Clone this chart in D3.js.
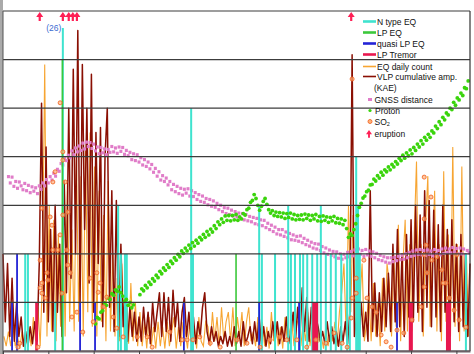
<!DOCTYPE html>
<html>
<head>
<meta charset="utf-8">
<script src="https://cdn.jsdelivr.net/npm/d3@7"></script>
<style>
body { margin: 0; background: #fff; }
svg { display: block; font-family: "Liberation Sans", Arial, sans-serif; }
</style>
</head>
<body>
<script>
// time axis in days since start of record
var tickDays = [0, 100, 200, 300, 400, 500, 600, 700, 800, 900, 1000];
var eruptionDays = [81, 132, 145, 154, 163, 768];

// daily event counts
var nTypeDays   = [49, 55, 115, 132, 254, 260, 269, 273, 415, 419, 565, 571, 600, 629, 635, 644, 655, 662, 671, 682, 693, 701, 712, 723, 734, 746, 759, 765, 779, 783, 787, 1021];
var nTypeCounts = [2, 2, 1, 26, 3, 2, 2, 2, 5, 2, 3, 2, 2, 3, 2, 2, 2, 2, 2, 2, 2, 3, 2, 2, 2, 2, 2, 2, 4, 3, 2, 2];
var lpDays   = [131, 514];
var lpCounts = [6, 2];
var qlpDays   = [20, 31, 170, 203, 399, 565, 653, 688, 869];
var qlpCounts = [1, 2, 1, 1, 1, 1, 1, 1, 1];
var tremorStart = [71, 682, 895, 977];
var tremorEnd   = [77, 695, 904, 988];

// EQ daily count, every 5 days from day 2
var eqStart = 2, eqStep = 5;
var eqCount = [
  3, 1, 4, 1, 5, 1, 3, 0.5, 4, 1,
  2, 5, 1, 7, 2, 9, 1, 15, 59, 3,
  30, 4, 27, 2, 24, 5, 31, 3, 35, 6,
  25, 4, 40, 6, 36, 3, 42, 8, 45, 5,
  38, 3, 33, 6, 28, 2, 35, 4, 20, 3,
  15, 2, 18, 3, 12, 1.5, 14, 2, 10, 1,
  8, 1, 6, 0.5, 7, 1, 5, 0.5, 6, 1,
  5, 0.5, 6, 1, 4, 7, 0.5, 5, 1, 6,
  4, 0.5, 6, 1, 5, 0.5, 7, 2, 1, 6,
  5, 1, 8, 2, 7, 1, 9, 2, 6, 8,
  2, 9, 1, 7, 3, 8, 1, 6, 9, 2,
  4, 1, 7, 2, 6, 1, 5, 0.5, 8, 2,
  6, 1, 5, 0.5, 7, 2, 4, 6, 1, 5,
  7, 1, 6, 2, 8, 1, 5, 0.5, 6, 2,
  3, 0.5, 5, 1, 4, 2, 6, 1, 8, 12,
  18, 3, 30, 8, 28, 5, 24, 10, 18, 2,
  6, 12, 2, 14, 3, 10, 1, 15, 4, 18,
  14, 3, 20, 5, 26, 2, 18, 27, 4, 22,
  4, 24, 39, 6, 22, 3, 26, 36, 5, 20,
  33, 4, 22, 2, 37, 6, 24, 3, 42, 5,
  22, 2, 38, 4, 20, 3
];

// VLP cumulative amplitude (KAE), every 5 days from day 0
var vlpStart = 0, vlpStep = 5;
var vlpAmp = [
  20, 6, 18, 3, 15, 2, 10, 3, 7, 1,
  4, 1, 5, 1.5, 6, 2, 18, 51, 8, 42,
  6, 25, 4, 30, 8, 22, 3, 35, 12, 50,
  15, 58, 20, 66, 10, 59, 25, 50, 14, 57,
  8, 45, 18, 46, 5, 40, 50, 9, 33, 4,
  31, 3, 22, 5, 14, 2, 9, 3, 8, 2,
  7, 2, 9, 3, 8, 1.5, 10, 4, 8, 12,
  3, 12, 4, 11, 2, 12.5, 5, 10, 2, 8,
  11, 3, 8, 2, 7, 1.5, 6, 3, 9, 12,
  4, 1.5, 5, 2, 4, 1, 3, 1.5, 4, 1,
  3, 1, 5, 1.5, 4, 1, 6, 1.5, 3, 5,
  1.5, 6, 2, 7, 1.5, 5, 1, 4, 1.5, 6,
  2, 6, 1.5, 5, 2, 7, 1.5, 4, 8, 2,
  9, 3, 13, 4, 11, 2, 9, 3, 7, 5,
  2, 4, 1.5, 6, 2, 5, 1.5, 4, 1, 5,
  2, 6, 1.5, 8, 61, 3, 7, 2, 10, 3,
  8, 2, 33, 4, 14, 3, 12, 4, 15, 5,
  16, 4, 22, 6, 25, 5, 20, 3, 24, 7,
  27, 6, 30, 8, 28, 4, 33, 9, 31, 5,
  29, 7, 26, 4, 30, 8, 25, 3, 27, 6,
  22, 4, 24, 5, 20, 3, 18
];

// GNSS baseline distance, every 4 days from day 12
var gnssStart = 12, gnssStep = 4;
var gnssDist = [
  35.9, 34.6, 35.8, 33.9, 34.9, 33.5, 34.8, 34.0, 33.2, 34.5,
  33.0, 34.1, 32.6, 33.8, 32.9, 33.6, 32.4, 34.0, 33.3, 34.6,
  34.0, 35.3, 34.6, 35.9, 35.2, 36.6, 36.0, 37.4, 37.0, 38.6,
  38.3, 39.7, 39.2, 40.3, 39.8, 41.2, 40.4, 41.8, 41.0, 42.2,
  41.3, 42.8, 41.6, 43.0, 42.1, 42.9, 41.7, 42.6, 41.2, 42.0,
  40.6, 41.9, 40.8, 41.6, 40.4, 41.5, 40.9, 42.1, 41.0, 41.8,
  40.7, 42.0, 41.1, 41.9, 40.5, 41.3, 40.2, 40.9, 39.4, 40.6,
  39.2, 40.4, 38.9, 39.8, 38.3, 39.4, 38.0, 38.9, 37.5, 38.4,
  36.8, 37.6, 36.0, 36.9, 35.2, 36.1, 34.9, 35.6, 34.2, 34.9,
  33.2, 34.3, 32.8, 33.9, 32.4, 33.5, 32.1, 33.3, 32.5, 33.4,
  31.9, 33.0, 31.8, 32.6, 31.2, 32.2, 30.8, 31.9, 30.6, 31.4,
  30.1, 31.2, 29.8, 30.9, 29.6, 30.4, 29.1, 30.0, 28.7, 29.5,
  28.3, 29.4, 28.1, 29.0, 27.8, 28.7, 27.6, 28.4, 27.3, 28.3,
  27.0, 28.1, 26.8, 27.7, 26.6, 27.5, 26.2, 27.3, 26.0, 27.0,
  25.8, 26.9, 25.4, 26.3, 25.0, 25.9, 24.6, 25.5, 24.1, 25.0,
  23.9, 25.0, 23.6, 24.5, 23.3, 24.2, 22.9, 23.9, 22.8, 23.6,
  22.6, 23.7, 22.3, 23.2, 21.9, 22.8, 21.6, 22.4, 21.2, 22.1,
  21.0, 22.0, 20.7, 21.5, 20.2, 21.2, 19.9, 20.8, 19.7, 20.5,
  19.4, 20.4, 19.1, 20.0, 18.9, 19.9, 19.2, 20.3, 19.4, 20.5,
  19.6, 20.8, 19.7, 21.0, 19.9, 20.7, 19.5, 20.9, 19.8, 20.6,
  19.5, 20.4, 19.2, 20.1, 18.8, 19.7, 18.6, 19.4, 18.3, 19.2,
  18.1, 19.2, 18.4, 19.3, 18.6, 19.5, 18.8, 19.7, 18.9, 20.0,
  19.2, 20.3, 19.5, 20.6, 19.7, 20.8, 19.9, 20.9, 19.8, 20.7,
  19.7, 20.8, 19.9, 20.6, 19.6, 20.9, 20.0, 20.7, 19.8, 21.0,
  20.1, 21.2, 20.3, 21.0, 20.2, 21.3, 20.4, 21.1, 20.0, 21.2,
  20.0, 21.0, 19.8, 20.7, 20.2
];

// Proton, two observation periods, every 4 days
var proton1Start = 204, proton1Step = 4;
var proton1 = [
  5.6, 6.9, 6.6, 8.0, 8.3, 9.9, 9.4, 10.9, 10.6, 11.8,
  11.5, 12.6, 12.3, 13.2, 12.0, 11.3, 10.2, 10.6, 9.4, 10.0,
  8.9, 9.5
];
var proton2Start = 302, proton2Step = 4;
var proton2 = [
  11.6, 12.8, 12.4, 13.5, 13.0, 14.2, 13.7, 14.9, 14.4, 15.6,
  15.1, 16.4, 15.9, 17.1, 16.6, 17.8, 17.2, 18.5, 18.0, 19.2,
  18.7, 19.9, 19.4, 20.6, 20.1, 21.2, 20.6, 21.8, 21.1, 22.3,
  21.6, 22.8, 22.2, 23.4, 22.9, 24.0, 23.4, 24.6, 23.9, 25.1,
  24.5, 25.8, 25.2, 26.6, 26.0, 27.2, 26.5, 27.8, 26.9, 27.9,
  26.8, 27.9, 27.0, 28.1, 26.9, 27.6, 27.2, 28.3, 28.0, 29.1,
  29.4, 30.6, 31.0, 32.2, 31.4, 30.0, 29.0, 29.8, 30.8, 31.4,
  30.2, 29.1, 28.4, 28.9, 27.9, 28.6, 27.7, 28.5, 27.6, 28.4,
  27.3, 28.3, 27.5, 28.4, 27.2, 28.1, 27.0, 27.9, 27.1, 28.0,
  27.0, 28.2, 27.3, 28.0, 26.9, 27.9, 27.2, 28.1, 26.8, 27.7,
  26.7, 27.8, 26.9, 27.6, 26.5, 27.5, 26.8, 27.7, 26.4, 27.3,
  26.3, 27.2, 26.0, 26.9, 25.2, 23.4, 24.1, 23.8, 25.0, 26.2,
  27.9, 29.6, 30.4, 31.5, 31.9, 32.8, 33.1, 34.2, 34.3, 35.4,
  35.0, 36.1, 35.6, 36.8, 36.2, 37.3, 36.9, 37.9, 37.3, 38.4,
  37.9, 39.0, 38.5, 39.7, 39.2, 40.3, 39.7, 40.8, 40.2, 41.4,
  40.6, 41.9, 41.3, 42.6, 42.0, 43.3, 42.6, 44.0, 43.4, 44.6,
  44.0, 45.3, 44.9, 46.3, 45.8, 47.2, 46.6, 48.1, 47.6, 49.0,
  48.6, 50.0, 49.7, 51.2, 50.6, 52.1, 51.7, 53.1, 52.6, 54.2,
  54.0, 55.6
];

// SO2 flux
var so2Days = [126, 132, 132, 115, 110, 137, 86, 104, 108, 126, 132, 143, 110, 121, 141, 82, 143, 148, 97, 86,
  99, 82, 86, 130, 93, 192, 207, 214, 210, 152, 163, 176, 221, 229, 243, 251, 265, 37, 33, 77,
  199, 318, 329, 296, 368, 395, 406, 419, 434, 457, 479, 516, 538, 567, 589, 611, 626, 648, 670, 690,
  712, 730, 748, 759, 768, 770, 779, 779, 770, 796, 803, 814, 823, 834, 845, 856, 869, 884, 902, 922,
  929, 935, 946, 957, 968, 977, 984, 995, 1006, 1021, 933, 929, 1001, 971, 929, 944, 929];
var so2Vals = [51.1, 41.0, 39.3, 36.9, 34.8, 34.8, 29.4, 27.6, 25.9, 23.9, 28.0, 28.6, 20.8, 20.8, 20.8, 18.7, 17.7, 16.1, 16.1, 14.0,
  14.6, 13.0, 11.9, 11.9, 10.9, 15.0, 16.1, 14.0, 12.1, 7.0, 8.0, 3.9, 9.1, 11.1, 7.0, 4.7, 2.9, 1.6, 0.8, 0.8,
  6.0, 2.9, 0.8, 2.9, 3.9, 2.3, 2.3, 2.3, 2.9, 1.6, 0.8, 2.3, 1.6, 0.8, 2.3, 2.9, 2.3, 2.3, 0.8, 2.3,
  1.6, 3.7, 1.6, 0.8, 6.8, 10.9, 11.9, 15.0, 56.0, 18.7, 10.9, 9.1, 8.0, 3.3, 1.9, 0.8, 4.3, 3.7, 6.4, 9.1,
  13.2, 16.1, 18.7, 19.4, 16.7, 14.0, 10.9, 8.4, 6.4, 4.9, 21.8, 19.8, 19.8, 14.0, 35.8, 31.7, 27.2];

var colors = {
  nType: "#3fe3cf", lp: "#3cc83c", qlp: "#2323d6", tremor: "#e8174f",
  eq: "#f7a532", vlp: "#8a0f03", gnss: "#e07cc8", proton: "#3ad40c",
  so2: "#f2692a", eruption: "#ff1f55"
};

var width = 474, height = 354;
var plot = {left: 3, right: 470, top: 11, bottom: 351};
var countCap = 6.65;

var x = d3.scaleLinear().domain([0, 1030]).range([plot.left, plot.right]);
var yCount = d3.scaleLinear().domain([0, 7]).range([plot.bottom, plot.top]);
var yEq = d3.scaleLinear().domain([0, 70]).range([plot.bottom, plot.top]);
var yVlp = d3.scaleLinear().domain([0, 70]).range([plot.bottom, plot.top]);
var yGnss = d3.scaleLinear().domain([0, 70]).range([plot.bottom, plot.top]);
var yProton = d3.scaleLinear().domain([0, 70]).range([plot.bottom, plot.top]);
var ySo2 = d3.scaleLinear().domain([0, 70]).range([plot.bottom, plot.top]);

var svg = d3.select("body").append("svg")
    .attr("width", width)
    .attr("height", height);

svg.append("rect").attr("width", width).attr("height", height).attr("fill", "#fff");
svg.append("rect").attr("x", 0).attr("y", 0).attr("width", plot.left).attr("height", height).attr("fill", "#aaa");

function series(vals, start, step) {
  return vals.map(function(v, i) { return {day: start + i * step, v: v}; });
}

// EQ daily count + VLP lines
var eqLine = d3.line().x(function(d) { return x(d.day); }).y(function(d) { return yEq(d.v); });
svg.append("path")
    .datum(series(eqCount, eqStart, eqStep))
    .attr("fill", "none")
    .attr("stroke", colors.eq)
    .attr("stroke-width", 1.1)
    .attr("d", eqLine);

var vlpLine = d3.line().x(function(d) { return x(d.day); }).y(function(d) { return yVlp(d.v); });
svg.append("path")
    .datum(series(vlpAmp, vlpStart, vlpStep))
    .attr("fill", "none")
    .attr("stroke", colors.vlp)
    .attr("stroke-width", 1.5)
    .attr("stroke-linejoin", "round")
    .attr("d", vlpLine);

// GNSS distance
svg.append("g").selectAll("rect")
    .data(series(gnssDist, gnssStart, gnssStep))
    .enter().append("rect")
    .attr("x", function(d) { return x(d.day) - 1.5; })
    .attr("y", function(d) { return yGnss(d.v) - 1.6; })
    .attr("width", 3)
    .attr("height", 3.2)
    .attr("fill", colors.gnss);

// event bars
function bars(days, counts, color, w) {
  svg.append("g").selectAll("rect")
      .data(days.map(function(d, i) { return {day: d, c: counts[i]}; }))
      .enter().append("rect")
      .attr("x", function(d) { return x(d.day) - w / 2; })
      .attr("width", w)
      .attr("y", function(d) { return yCount(Math.min(d.c, countCap)); })
      .attr("height", function(d) { return yCount(0) - yCount(Math.min(d.c, countCap)); })
      .attr("fill", color);
}
bars(nTypeDays, nTypeCounts, colors.nType, 2);
bars(lpDays, lpCounts, colors.lp, 1.6);
bars(qlpDays, qlpCounts, colors.qlp, 1.8);

svg.append("g").selectAll("rect")
    .data(tremorStart.map(function(s, i) { return {s: s, e: tremorEnd[i]}; }))
    .enter().append("rect")
    .attr("x", function(d) { return x(d.s); })
    .attr("width", function(d) { return x(d.e) - x(d.s); })
    .attr("y", yCount(1))
    .attr("height", yCount(0) - yCount(1))
    .attr("fill", colors.tremor);

// clipped count label
nTypeCounts.forEach(function(c, i) {
  if (c > countCap) {
    svg.append("text")
        .attr("x", x(nTypeDays[i]) - 1.5)
        .attr("y", yCount(countCap) + 3)
        .attr("text-anchor", "end")
        .attr("font-size", "8.5px")
        .attr("fill", "#3b6cd2")
        .text("(" + c + ")");
  }
});

// proton
var protonPts = series(proton1, proton1Start, proton1Step).concat(series(proton2, proton2Start, proton2Step));
svg.append("g").selectAll("circle")
    .data(protonPts)
    .enter().append("circle")
    .attr("cx", function(d) { return x(d.day); })
    .attr("cy", function(d) { return yProton(d.v); })
    .attr("r", 1.9)
    .attr("fill", colors.proton);

// SO2
svg.append("g").selectAll("circle")
    .data(so2Days.map(function(d, i) { return {day: d, v: so2Vals[i]}; }))
    .enter().append("circle")
    .attr("cx", function(d) { return x(d.day); })
    .attr("cy", function(d) { return ySo2(d.v); })
    .attr("r", 2)
    .attr("fill", "#ffb47a")
    .attr("fill-opacity", 0.7)
    .attr("stroke", colors.so2)
    .attr("stroke-width", 0.9);

// grid lines
svg.append("g").selectAll("line")
    .data(d3.range(0, 8))
    .enter().append("line")
    .attr("x1", plot.left)
    .attr("x2", plot.right)
    .attr("y1", function(d) { return yCount(d); })
    .attr("y2", function(d) { return yCount(d); })
    .attr("stroke", "#3c3c3c")
    .attr("stroke-width", 1.2);

svg.append("line")
    .attr("x1", plot.left).attr("x2", plot.left)
    .attr("y1", plot.top).attr("y2", height)
    .attr("stroke", "#555").attr("stroke-width", 1);
svg.append("line")
    .attr("x1", plot.right).attr("x2", plot.right)
    .attr("y1", plot.top).attr("y2", plot.bottom)
    .attr("stroke", "#333").attr("stroke-width", 1.2);

var xAxis = svg.append("g")
    .attr("transform", "translate(0," + plot.bottom + ")")
    .call(d3.axisBottom(x).tickValues(tickDays).tickFormat("").tickSize(4).tickSizeOuter(0));
xAxis.select(".domain").attr("stroke", "#6d6066").attr("stroke-width", 2);
xAxis.selectAll(".tick line").attr("stroke", "#444");

// eruption arrows
function arrow(cx, tip, s) {
  return "M" + cx + "," + tip +
    "L" + (cx + 3.5 * s) + "," + (tip + 5 * s) +
    "L" + (cx + 1.1 * s) + "," + (tip + 5 * s) +
    "L" + (cx + 1.1 * s) + "," + (tip + 9 * s) +
    "L" + (cx - 1.1 * s) + "," + (tip + 9 * s) +
    "L" + (cx - 1.1 * s) + "," + (tip + 5 * s) +
    "L" + (cx - 3.5 * s) + "," + (tip + 5 * s) + "Z";
}
svg.append("g").selectAll("path")
    .data(eruptionDays)
    .enter().append("path")
    .attr("d", function(d) { return arrow(x(d), plot.top + 1, 1); })
    .attr("fill", colors.eruption);

// legend
var legend = svg.append("g").attr("font-size", "8.5px").attr("fill", "#111");
var lineItems = [
  {label: "N type EQ", color: colors.nType, y: 21.5},
  {label: "LP EQ", color: colors.lp, y: 32.5},
  {label: "quasi LP EQ", color: colors.qlp, y: 43.5},
  {label: "LP Tremor", color: colors.tremor, y: 54.5},
  {label: "EQ daily count", color: colors.eq, y: 66.5, thin: true},
  {label: "VLP cumulative amp.", color: colors.vlp, y: 76.5, thin: true}
];
lineItems.forEach(function(it) {
  legend.append("line")
      .attr("x1", 363).attr("x2", 376)
      .attr("y1", it.y).attr("y2", it.y)
      .attr("stroke", it.color)
      .attr("stroke-width", it.thin ? 1.6 : 2.6);
  legend.append("text").attr("x", 377).attr("y", it.y + 3).text(it.label);
});
legend.append("text").attr("x", 374).attr("y", 90.5).text("(KAE)");

legend.append("rect").attr("x", 368).attr("y", 98).attr("width", 4).attr("height", 3).attr("fill", colors.gnss);
legend.append("text").attr("x", 374.5).attr("y", 102.5).text("GNSS distance");

legend.append("circle").attr("cx", 370).attr("cy", 110.5).attr("r", 1.6).attr("fill", colors.proton);
legend.append("text").attr("x", 375).attr("y", 113.5).text("Proton");

legend.append("circle").attr("cx", 370).attr("cy", 121.5).attr("r", 2)
    .attr("fill", "#ffb47a").attr("stroke", colors.so2).attr("stroke-width", 0.9);
var so2Label = legend.append("text").attr("x", 374.5).attr("y", 124.5).text("SO");
so2Label.append("tspan").attr("font-size", "5.5px").attr("dy", 1.5).text("2");

legend.append("path").attr("d", arrow(369, 130, 0.85)).attr("fill", colors.eruption);
legend.append("text").attr("x", 374.5).attr("y", 137).text("eruption");
</script>
</body>
</html>
